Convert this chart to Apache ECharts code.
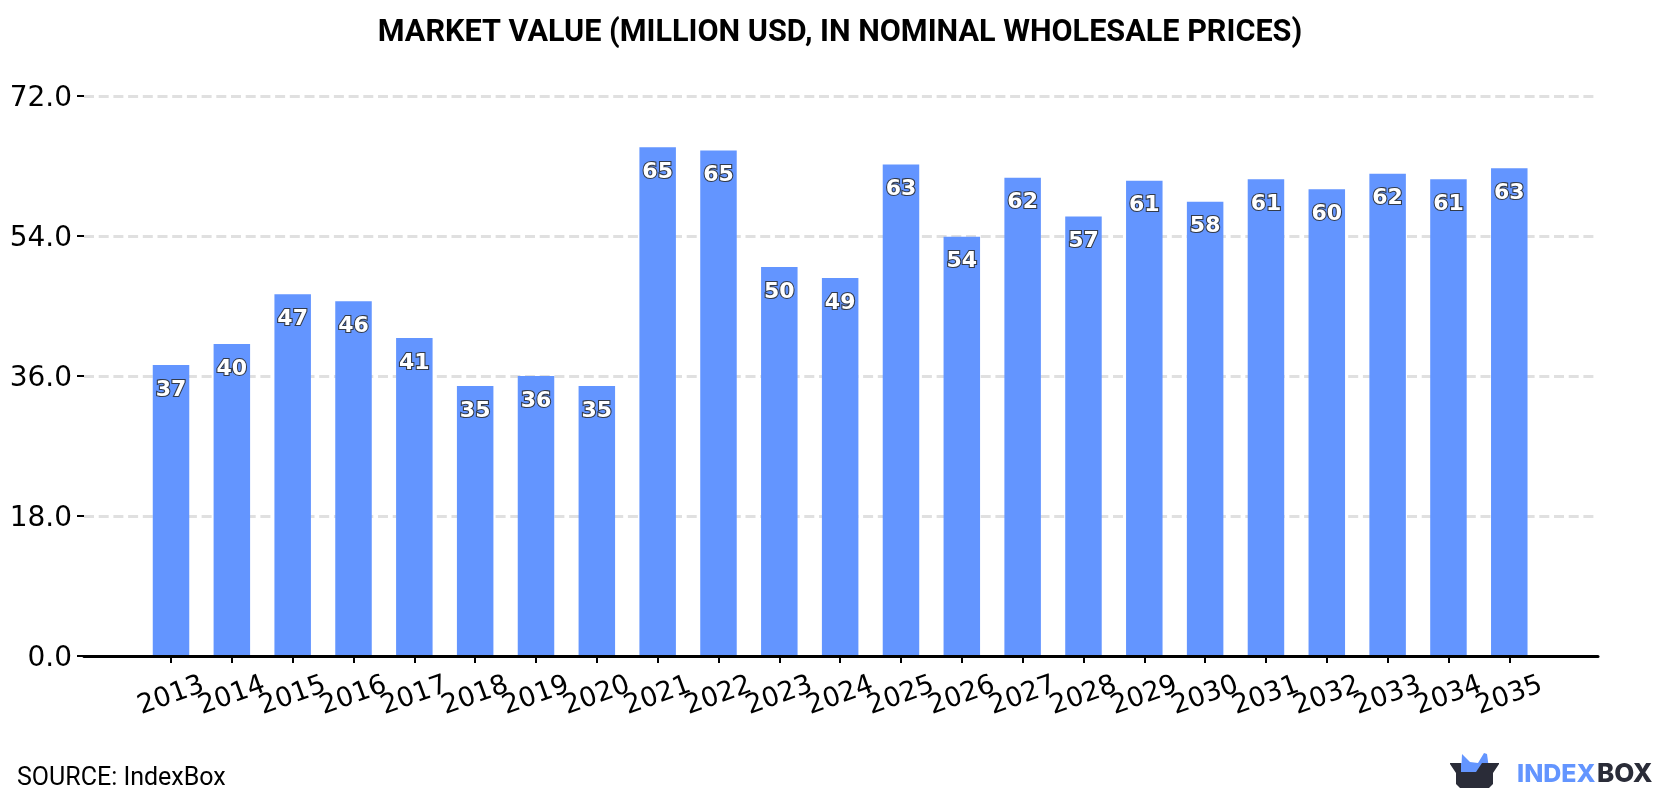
<!DOCTYPE html>
<html>
<head>
<meta charset="utf-8">
<title>Market value</title>
<style>html,body{margin:0;padding:0;background:#fff;overflow:hidden}#chart{width:1680px;height:800px}</style>
<script src="https://cdn.jsdelivr.net/npm/echarts@6/dist/echarts.min.js"></script>
</head>
<body>
<div id="chart"></div>
<script>
// Market value by year, million USD
const years = ['2013','2014','2015','2016','2017','2018','2019','2020','2021','2022','2023','2024','2025','2026','2027','2028','2029','2030','2031','2032','2033','2034','2035'];
const marketValue = [37.4,40.1,46.5,45.6,40.9,34.7,36.0,34.7,65.4,65.0,50.0,48.6,63.2,53.9,61.5,56.5,61.1,58.4,61.3,60.0,62.0,61.3,62.7];
const yTicks = [0,18,36,54,72];
const titleText = 'MARKET VALUE (MILLION USD, IN NOMINAL WHOLESALE PRICES)';
const sourceText = 'SOURCE: IndexBox';

const BLUE = '#6395ff';
const DARK = '#2a2c38';
const yMin = yTicks[0];
const yMax = yTicks[yTicks.length - 1];

const chart = echarts.init(document.getElementById('chart'), null, {renderer: 'canvas'});
chart.setOption({
  animation: false,
  backgroundColor: '#fff',
  title: [
    {text: titleText, left: 'center', top: 13,
     textStyle: {fontFamily: 'Roboto', fontWeight: 'bold', fontSize: 30.6, color: '#000'}},
    {text: sourceText, left: 12, top: 761,
     textStyle: {fontFamily: 'Roboto', fontWeight: 'normal', fontSize: 25, color: '#000'}}
  ],
  // The outer grid carries the value scale and the long baseline; the inner one holds the bars.
  grid: [
    {left: 84, width: 1514, top: 96, height: 560},
    {left: 140.6, width: 1399.1, top: 96, height: 560}
  ],
  xAxis: [
    {
      gridIndex: 0, type: 'value', min: 0, max: 1, z: 5,
      splitLine: {show: false},
      axisTick: {show: false},
      axisLabel: {show: false},
      axisLine: {show: true, lineStyle: {color: '#000', width: 3}}
    },
    {
      gridIndex: 1, type: 'category', data: years,
      axisLine: {show: false},
      axisTick: {show: true, alignWithLabel: true, length: 7, lineStyle: {color: '#000', width: 2}},
      axisLabel: {
        show: true, interval: 0, rotate: 20, margin: 40, hideOverlap: false,
        align: 'center', verticalAlign: 'middle',
        fontFamily: 'DejaVu Sans', fontSize: 27, color: '#000'
      }
    }
  ],
  yAxis: [
    {
      gridIndex: 0, type: 'value', min: yMin, max: yMax, interval: yTicks[1] - yTicks[0],
      axisLine: {show: false},
      axisTick: {show: true, length: 7, lineStyle: {color: '#000', width: 2}},
      axisLabel: {margin: 12, fontFamily: 'DejaVu Sans', fontSize: 28, color: '#000',
        verticalAlign: 'top', lineHeight: 6,
        formatter: v => v.toFixed(1)},
      splitLine: {show: true, showMinLine: false,
        lineStyle: {color: '#e0e0e0', width: 3, type: [10, 4.7]}}
    },
    {gridIndex: 1, type: 'value', min: yMin, max: yMax, show: false, splitLine: {show: false}}
  ],
  series: [{
    type: 'bar',
    xAxisIndex: 1,
    yAxisIndex: 1,
    data: marketValue,
    barWidth: 36.5,
    itemStyle: {color: BLUE},
    label: {
      show: true, position: 'insideTop', distance: 14,
      fontFamily: 'DejaVu Sans', fontWeight: 'bold', fontSize: 22, color: '#fff',
      textBorderColor: '#333b4a', textBorderWidth: 2.2,
      formatter: p => String(Math.round(p.value))
    }
  }],
  // IndexBox wordmark in the lower right corner
  graphic: [
    {type: 'polygon', shape: {points: [[1461,776],[1462,754],[1470,762],[1478,763],[1484,753],[1487,754],[1490,776]]}, style: {fill: BLUE}},
    {type: 'polygon', shape: {points: [[1450,763],[1499,763],[1499,764],[1493,773],[1493,784],[1489,788],[1460,788],[1456,784],[1456,773],[1450,764]]}, style: {fill: DARK}},
    {type: 'polygon', shape: {points: [[1461,763],[1482,763],[1476,772],[1461,772]]}, style: {fill: BLUE}},
    {type: 'text', left: 1517, top: 762, style: {text: 'INDEX', fill: BLUE, font: '800 25px Inter'}},
    {type: 'text', left: 1597, top: 761, style: {text: 'BOX', fill: DARK, font: '800 26px Inter'}}
  ]
});
</script>
</body>
</html>
